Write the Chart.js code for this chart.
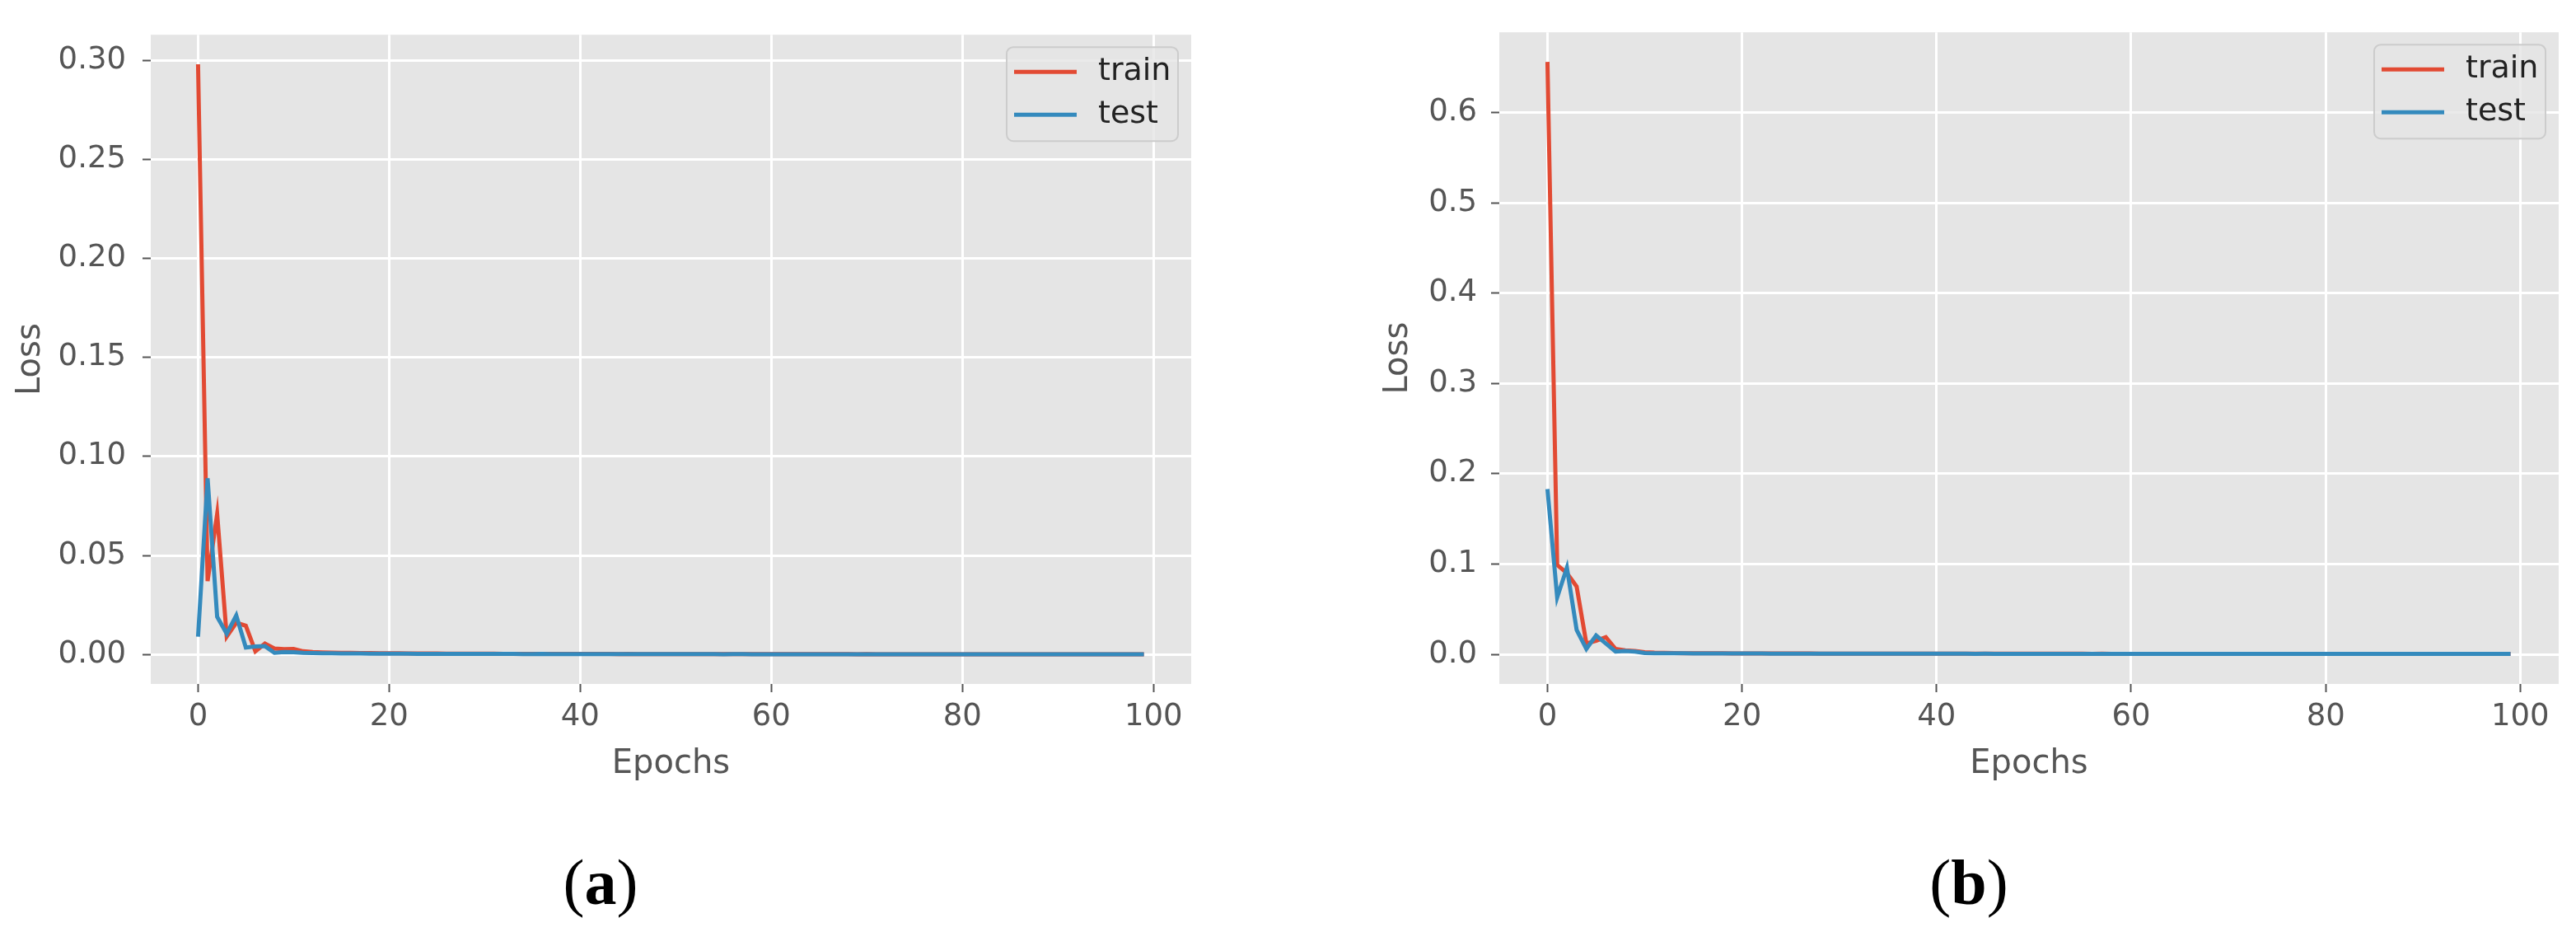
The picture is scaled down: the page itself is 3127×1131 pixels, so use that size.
<!DOCTYPE html>
<html>
<head>
<meta charset="utf-8">
<script src="https://cdn.jsdelivr.net/npm/chart.js@4.4.1/dist/chart.umd.min.js"></script>
<style>
  html, body { margin: 0; padding: 0; background: #ffffff; }
  #pagina { position: relative; width: 3127px; height: 1131px; overflow: hidden; }
  .painel { position: absolute; top: 0; height: 1000px; }
  .rotulo { position: absolute; top: 1032px; width: 200px; margin-left: -100px; text-align: center;
            font-family: "Liberation Serif", "DejaVu Serif", serif; font-size: 78px; line-height: 78px; color: #000; }
</style>
</head>
<body>
<div id="pagina">
  <div class="painel" style="left:0px; width:1480px;"><canvas id="chart-a"></canvas></div>
  <div class="painel" style="left:1660px; width:1467px;"><canvas id="chart-b"></canvas></div>
  <div class="rotulo" style="left:729px;">(<b>a</b>)</div>
  <div class="rotulo" style="left:2390px;">(<b>b</b>)</div>
</div>
<script>
// valores (perda por época)
const epochs = Array.from({ length: 100 }, (_, i) => i);
const xTicks = [0, 20, 40, 60, 80, 100];

const leftYTicks = [0.00, 0.05, 0.10, 0.15, 0.20, 0.25, 0.30];
const rightYTicks = [0.0, 0.1, 0.2, 0.3, 0.4, 0.5, 0.6];

const leftTrain = [
    0.298, 0.037, 0.071, 0.009, 0.016, 0.0145, 0.0016, 0.0055, 0.0030, 0.0027, 0.0028, 0.0016,
    0.0012, 0.0010, 0.0009, 0.0008, 0.0008, 0.0007, 0.0007, 0.0006, 0.0006, 0.0006,
    0.0005, 0.0005, 0.0005, 0.0005, 0.0004, 0.0004, 0.0004, 0.0004, 0.0004, 0.0004,
    0.0003, 0.0003, 0.0003, 0.0003, 0.0003, 0.0003, 0.0003, 0.0003, 0.0003, 0.0003,
    0.0003, 0.0003, 0.0002, 0.0003, 0.0002, 0.0002, 0.0002, 0.0002, 0.0002, 0.0002,
    0.0002, 0.0002, 0.0002, 0.0002, 0.0002, 0.0002, 0.0002, 0.0002, 0.0002, 0.0002,
    0.0002, 0.0002, 0.0002, 0.0002, 0.0002, 0.0002, 0.0002, 0.0001, 0.0002, 0.0001,
    0.0001, 0.0001, 0.0001, 0.0001, 0.0001, 0.0001, 0.0001, 0.0001, 0.0001, 0.0001,
    0.0001, 0.0001, 0.0001, 0.0001, 0.0001, 0.0001, 0.0001, 0.0001, 0.0001, 0.0001,
    0.0001, 0.0001, 0.0001, 0.0001, 0.0001, 0.0001, 0.0001, 0.0001
];
const leftTest = [
    0.009, 0.089, 0.019, 0.0105, 0.0197, 0.0035, 0.0040, 0.0042, 0.0008, 0.0012, 0.0011, 0.0008,
    0.0007, 0.0006, 0.0006, 0.0005, 0.0005, 0.0005, 0.0004, 0.0004, 0.0004, 0.0004,
    0.0004, 0.0003, 0.0003, 0.0003, 0.0003, 0.0003, 0.0003, 0.0003, 0.0003, 0.0003,
    0.0003, 0.0003, 0.0002, 0.0002, 0.0003, 0.0002, 0.0002, 0.0002, 0.0002, 0.0002,
    0.0002, 0.0002, 0.0002, 0.0002, 0.0002, 0.0002, 0.0002, 0.0002, 0.0002, 0.0002,
    0.0002, 0.0002, 0.0002, 0.0001, 0.0002, 0.0002, 0.0001, 0.0001, 0.0001, 0.0001,
    0.0001, 0.0001, 0.0001, 0.0001, 0.0001, 0.0001, 0.0001, 0.0001, 0.0001, 0.0001,
    0.0001, 0.0001, 0.0001, 0.0001, 0.0001, 0.0001, 0.0001, 0.0001, 0.0001, 0.0001,
    0.0001, 0.0001, 0.0001, 0.0001, 0.0001, 0.0001, 0.0001, 0.0001, 0.0001, 0.0001,
    0.0001, 0.0001, 0.0001, 0.0001, 0.0001, 0.0001, 0.0001, 0.0001
];

const rightTrain = [
    0.656, 0.099, 0.090, 0.075, 0.012, 0.015, 0.019, 0.006, 0.0045, 0.0036, 0.0024, 0.0018,
    0.0016, 0.0014, 0.0013, 0.0012, 0.0012, 0.0011, 0.0011, 0.0010, 0.0010, 0.0010,
    0.0010, 0.0009, 0.0009, 0.0009, 0.0009, 0.0009, 0.0008, 0.0008, 0.0008, 0.0008,
    0.0008, 0.0008, 0.0008, 0.0008, 0.0008, 0.0007, 0.0008, 0.0007, 0.0007, 0.0007,
    0.0007, 0.0007, 0.0007, 0.0007, 0.0007, 0.0007, 0.0007, 0.0007, 0.0007, 0.0007,
    0.0007, 0.0007, 0.0007, 0.0007, 0.0006, 0.0007, 0.0006, 0.0006, 0.0006, 0.0006,
    0.0006, 0.0006, 0.0006, 0.0006, 0.0006, 0.0006, 0.0006, 0.0006, 0.0006, 0.0006,
    0.0006, 0.0006, 0.0006, 0.0006, 0.0006, 0.0006, 0.0006, 0.0005, 0.0006, 0.0005,
    0.0005, 0.0005, 0.0005, 0.0005, 0.0005, 0.0005, 0.0005, 0.0005, 0.0005, 0.0005,
    0.0005, 0.0005, 0.0005, 0.0005, 0.0005, 0.0005, 0.0005, 0.0005
];
const rightTest = [
    0.183, 0.063, 0.096, 0.027, 0.006, 0.021, 0.012, 0.003, 0.0036, 0.0030, 0.0015, 0.0013,
    0.0012, 0.0011, 0.0011, 0.0010, 0.0010, 0.0010, 0.0009, 0.0009, 0.0009, 0.0009,
    0.0009, 0.0008, 0.0008, 0.0008, 0.0008, 0.0008, 0.0008, 0.0008, 0.0007, 0.0008,
    0.0007, 0.0007, 0.0007, 0.0007, 0.0007, 0.0007, 0.0007, 0.0007, 0.0007, 0.0007,
    0.0007, 0.0007, 0.0006, 0.0007, 0.0006, 0.0006, 0.0006, 0.0006, 0.0006, 0.0006,
    0.0006, 0.0006, 0.0006, 0.0006, 0.0006, 0.0006, 0.0006, 0.0006, 0.0006, 0.0006,
    0.0006, 0.0006, 0.0006, 0.0005, 0.0006, 0.0005, 0.0005, 0.0005, 0.0005, 0.0005,
    0.0005, 0.0005, 0.0005, 0.0005, 0.0005, 0.0005, 0.0005, 0.0005, 0.0005, 0.0005,
    0.0005, 0.0005, 0.0005, 0.0005, 0.0005, 0.0005, 0.0005, 0.0005, 0.0005, 0.0005,
    0.0005, 0.0005, 0.0005, 0.0005, 0.0005, 0.0005, 0.0005, 0.0005
];

const COR_TRAIN = '#E24A33';
const COR_TEST = '#348ABD';
const COR_TEXTO = '#555555';
const FONTE = '"DejaVu Sans", "Liberation Sans", sans-serif';

// fundo cinza da área do gráfico (estilo ggplot)
const fundoPlugin = {
    id: 'fundoCinza',
    beforeDraw(chart) {
        const { ctx, chartArea } = chart;
        ctx.save();
        ctx.fillStyle = '#E5E5E5';
        ctx.fillRect(chartArea.left, chartArea.top, chartArea.right - chartArea.left, chartArea.bottom - chartArea.top);
        ctx.restore();
    }
};

// legenda com moldura dentro da área do gráfico, canto superior direito
const legendaPlugin = {
    id: 'legendaCaixa',
    afterDatasetsDraw(chart) {
        const { ctx, chartArea } = chart;
        const w = 208, h = 114;
        const x = chartArea.right - 16 - w;
        const y = chartArea.top + 15;
        ctx.save();
        ctx.fillStyle = 'rgba(229,229,229,0.8)';
        ctx.strokeStyle = '#CCCCCC';
        ctx.lineWidth = 2;
        ctx.beginPath();
        if (ctx.roundRect) ctx.roundRect(x, y, w, h, 8); else ctx.rect(x, y, w, h);
        ctx.fill();
        ctx.stroke();
        chart.data.datasets.forEach((ds, i) => {
            const ly = y + 30 + i * 52;
            ctx.strokeStyle = ds.borderColor;
            ctx.lineWidth = 5;
            ctx.beginPath();
            ctx.moveTo(x + 9, ly);
            ctx.lineTo(x + 85, ly);
            ctx.stroke();
            ctx.fillStyle = '#222222';
            ctx.font = '38px ' + FONTE;
            ctx.textBaseline = 'middle';
            ctx.textAlign = 'left';
            ctx.fillText(ds.label, x + 111, ly);
        });
        ctx.restore();
    }
};

function pontos(valores) {
    return valores.map((v, i) => ({ x: epochs[i], y: v }));
}

/**
 * Monta um gráfico de perda (train/test) com eixos no estilo do original.
 */
function criarGraficoPerda(canvasId, train, test, cfg) {
    const ctx = document.getElementById(canvasId).getContext('2d');
    return new Chart(ctx, {
        type: 'line',
        data: {
            datasets: [
                { label: 'train', data: pontos(train), borderColor: COR_TRAIN, backgroundColor: COR_TRAIN, order: 1 },
                { label: 'test', data: pontos(test), borderColor: COR_TEST, backgroundColor: COR_TEST, order: 0 }
            ]
        },
        options: {
            responsive: true,
            maintainAspectRatio: false,
            animation: false,
            devicePixelRatio: 1,
            layout: { padding: { top: 24, right: cfg.padRight, left: 0, bottom: 0 } },
            elements: {
                line: { borderWidth: 5, tension: 0 },
                point: { radius: 0 }
            },
            plugins: {
                legend: { display: false },
                tooltip: { enabled: false }
            },
            scales: {
                x: {
                    type: 'linear',
                    min: -4.95,
                    max: 103.95,
                    afterBuildTicks: (scale) => { scale.ticks = xTicks.map(v => ({ value: v })); },
                    afterFit: (scale) => { scale.height = 170; },
                    border: { display: false },
                    grid: { color: '#FFFFFF', lineWidth: 3, tickColor: COR_TEXTO, tickLength: 10, tickWidth: 2 },
                    ticks: { color: COR_TEXTO, font: { family: FONTE, size: 37 }, padding: 8, maxRotation: 0,
                             callback: (v) => String(v) },
                    title: { display: true, text: 'Epochs', color: COR_TEXTO, font: { family: FONTE, size: 40 },
                             padding: { top: 0, bottom: 48 } }
                },
                y: {
                    type: 'linear',
                    min: cfg.yMin,
                    max: cfg.yMax,
                    afterBuildTicks: (scale) => { scale.ticks = cfg.yTicks.map(v => ({ value: v })); },
                    afterFit: (scale) => { scale.width = cfg.yWidth; },
                    border: { display: false },
                    grid: { color: '#FFFFFF', lineWidth: 3, tickColor: COR_TEXTO, tickLength: 10, tickWidth: 2 },
                    ticks: { color: COR_TEXTO, font: { family: FONTE, size: 37 }, padding: cfg.tickPad,
                             callback: (v) => Number(v).toFixed(cfg.decimals) },
                    title: { display: true, text: 'Loss', color: COR_TEXTO, font: { family: FONTE, size: 40 },
                             padding: { top: 14, bottom: 0 } }
                }
            }
        },
        plugins: [fundoPlugin, legendaPlugin]
    });
}

criarGraficoPerda('chart-a', leftTrain, leftTest, {
    padRight: 34, yWidth: 183, tickPad: 20,
    yMin: -0.0149, yMax: 0.3129, yTicks: leftYTicks, decimals: 2
});

criarGraficoPerda('chart-b', rightTrain, rightTest, {
    padRight: 21, yWidth: 160, tickPad: 17,
    yMin: -0.0328, yMax: 0.6888, yTicks: rightYTicks, decimals: 1
});
</script>
</body>
</html>
